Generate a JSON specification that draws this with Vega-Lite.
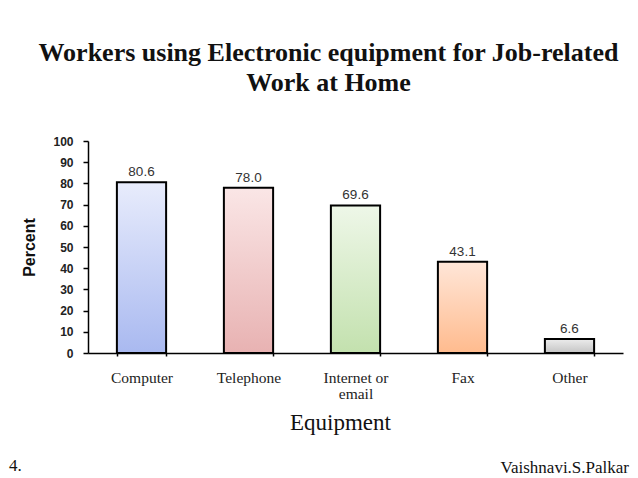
{
  "$schema": "https://vega.github.io/schema/vega-lite/v6.json",
  "background": "white",
  "padding": {"left": 8, "top": 40, "right": 8, "bottom": 0},
  "config": {"view": {"stroke": null}, "concat": {"spacing": 0}},
  "data": {"values": [
    {"e": "Computer", "v": 80.6},
    {"e": "Telephone", "v": 78.0},
    {"e": "Internet or email", "v": 69.6},
    {"e": "Fax", "v": 43.1},
    {"e": "Other", "v": 6.6}
  ]},
  "title": {"text": "Vaishnavi.S.Palkar", "orient": "bottom", "anchor": "end", "font": "Liberation Serif", "fontSize": 17, "fontWeight": "normal", "color": "#111", "offset": 0, "dy": -14, "dx": 6},
  "vconcat": [{
    "title": {"text": "4.", "orient": "bottom", "anchor": "start", "font": "Liberation Serif", "fontSize": 17, "fontWeight": "normal", "color": "#111", "offset": 24, "dx": -13},
    "vconcat": [{
      "width": 535,
      "height": 212,
      "title": {"text": ["Workers using Electronic equipment for Job-related", "Work at Home"], "font": "Liberation Serif", "fontSize": 26, "fontWeight": "bold", "color": "#111", "lineHeight": 30, "anchor": "middle", "frame": "group", "dx": -27, "offset": 39},
      "encoding": {
        "x": {"field": "e", "type": "nominal", "sort": null,
          "scale": {"paddingInner": 0.54, "paddingOuter": 0.27},
          "axis": {"title": "Equipment", "titleFont": "Liberation Serif", "titleFontSize": 23, "titleFontWeight": "normal", "titleColor": "#111", "titleX": 252, "titleY": 76, "titleBaseline": "alphabetic",
            "labelAngle": 0, "labelFont": "Liberation Serif", "labelFontSize": 15.5, "labelColor": "#222", "labelPadding": 14, "labelLineHeight": 16,
            "labelExpr": "datum.value == 'Internet or email' ? ['Internet or', 'email'] : datum.value",
            "domainColor": "black", "domainWidth": 1.5, "tickBand": "extent", "tickColor": "black", "tickSize": 3, "tickWidth": 1.5}},
        "y": {"field": "v", "type": "quantitative", "scale": {"domain": [0, 100]},
          "axis": {"title": "Percent", "titleFont": "Liberation Sans", "titleFontSize": 16, "titleFontWeight": "bold", "titleColor": "#111", "titlePadding": 15,
            "values": [0, 10, 20, 30, 40, 50, 60, 70, 80, 90, 100], "grid": false,
            "labelFont": "Liberation Sans", "labelFontSize": 12, "labelFontWeight": "bold", "labelColor": "#222", "labelPadding": 10,
            "domainColor": "black", "domainWidth": 1.5, "tickColor": "black", "tickSize": 5, "tickWidth": 1.5}}
      },
      "layer": [
        {"mark": {"type": "bar", "stroke": "black", "strokeWidth": 2},
         "encoding": {"fill": {
           "condition": [
             {"test": "datum.e == 'Computer'", "value": {"gradient": "linear", "x1": 0, "y1": 0, "x2": 0, "y2": 1, "stops": [{"offset": 0, "color": "#e8ecfc"}, {"offset": 1, "color": "#a9b9f0"}]}},
             {"test": "datum.e == 'Telephone'", "value": {"gradient": "linear", "x1": 0, "y1": 0, "x2": 0, "y2": 1, "stops": [{"offset": 0, "color": "#fae6e6"}, {"offset": 1, "color": "#e8b2b2"}]}},
             {"test": "datum.e == 'Internet or email'", "value": {"gradient": "linear", "x1": 0, "y1": 0, "x2": 0, "y2": 1, "stops": [{"offset": 0, "color": "#eef7e8"}, {"offset": 1, "color": "#c3e1ae"}]}},
             {"test": "datum.e == 'Fax'", "value": {"gradient": "linear", "x1": 0, "y1": 0, "x2": 0, "y2": 1, "stops": [{"offset": 0, "color": "#ffe6d8"}, {"offset": 1, "color": "#ffbb8e"}]}}
           ],
           "value": {"gradient": "linear", "x1": 0, "y1": 0, "x2": 0, "y2": 1, "stops": [{"offset": 0, "color": "#ececec"}, {"offset": 1, "color": "#c4c4c4"}]}
         }}},
        {"mark": {"type": "text", "baseline": "alphabetic", "dy": -6, "font": "Liberation Sans", "fontSize": 13.5, "color": "#333"},
         "encoding": {"text": {"field": "v", "type": "quantitative", "format": ".1f"}}}
      ]
    }]
  }]
}
